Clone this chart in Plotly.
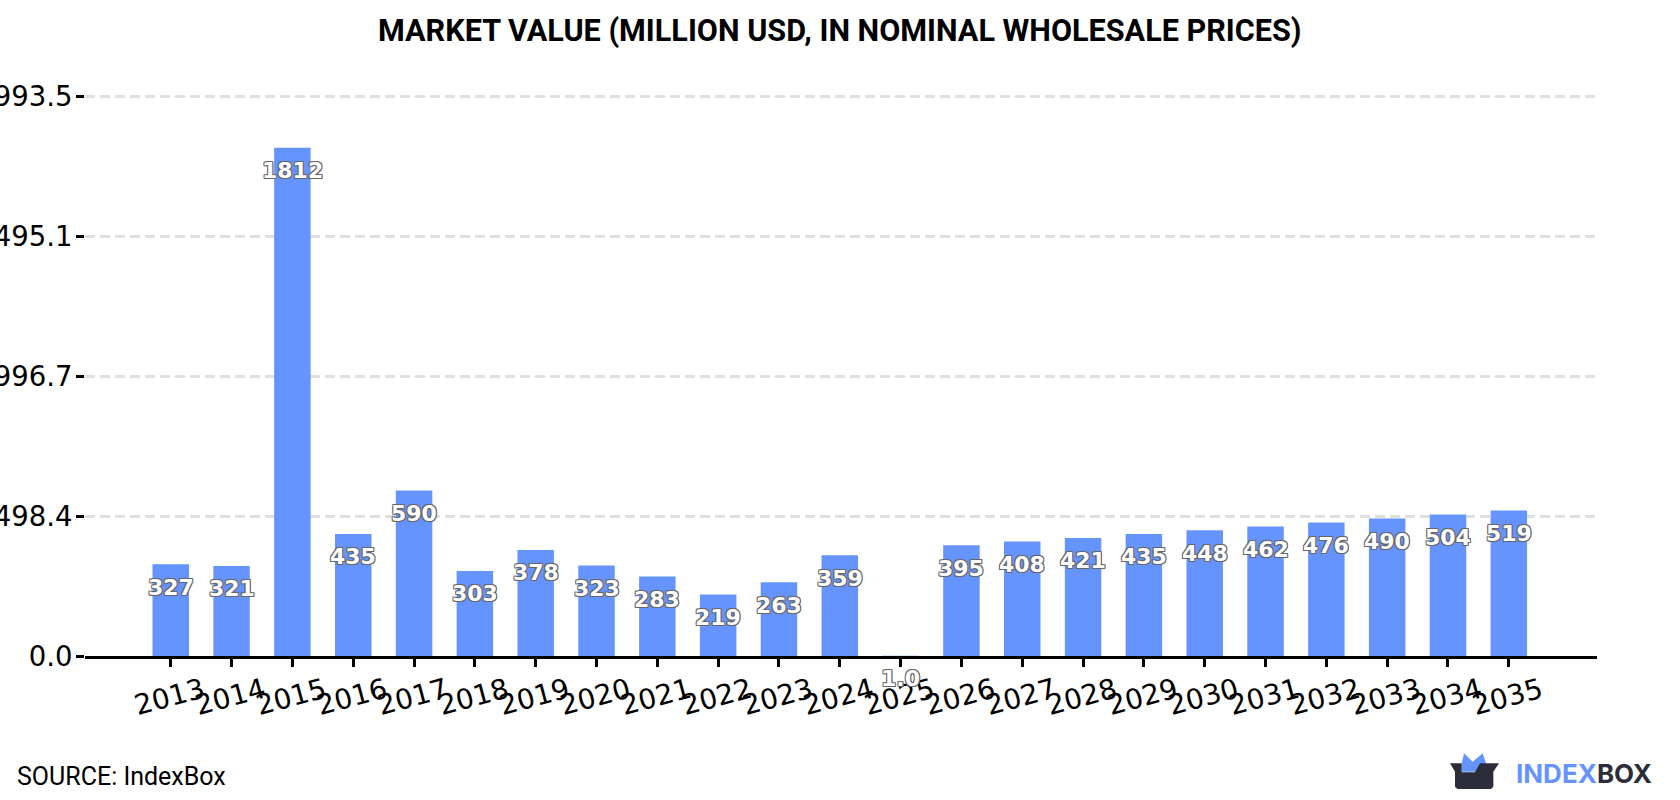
import plotly.graph_objects as go

# Market value series, history and forecast
years = [str(y) for y in [2013, 2014, 2015, 2016, 2017, 2018, 2019, 2020, 2021, 2022, 2023, 2024,
                          2025, 2026, 2027, 2028, 2029, 2030, 2031, 2032, 2033, 2034, 2035]]
values = [327, 321, 1812, 435, 590, 303, 378, 323, 283, 219, 263, 359,
          1.0, 395, 408, 421, 435, 448, 462, 476, 490, 504, 519]
value_labels = ["327", "321", "1812", "435", "590", "303", "378", "323", "283", "219", "263", "359",
                "1.0", "395", "408", "421", "435", "448", "462", "476", "490", "504", "519"]
y_ticks = [0.0, 498.4, 996.7, 1495.1, 1993.5]
y_tick_labels = ["0.0", "498.4", "996.7", "1495.1", "1993.5"]

W, H = 1680, 800
M_L, M_R, M_T, M_B = 85, 83, 95, 144
BLUE = "#6694ff"
BAR_FILL = "rgba(102,148,255,0.999)"
DARK = "#2b2d3a"
OUTLINE = "-1px -1px 0 #666, 1px -1px 0 #666, -1px 1px 0 #666, 1px 1px 0 #666, 0 1px 0 #666, 1px 0 0 #666"


def px_x(x):
    """Page pixel x to paper coordinate."""
    return (x - M_L) / (W - M_L - M_R)


def px_y(y):
    """Page pixel y to paper coordinate."""
    return 1 - (y - M_T) / (H - M_T - M_B)


def logo_path(points):
    return "M" + " L".join(f"{px_x(1400 + a / 3):.5f},{px_y(730 + b / 3):.5f}" for a, b in points) + " Z"


# An alpha just under 1 makes bars snap to whole pixels, so the 1.0 bar stays flat
fig = go.Figure(go.Bar(x=years, y=values, width=0.6, marker=dict(color=BAR_FILL, line_width=0)))

# Value labels sit a fixed distance below each bar top; x is the category index
annotations = [
    dict(x=i, y=val, xref="x", yref="y", text=label, showarrow=False, yanchor="middle",
         yshift=-23, font=dict(family="DejaVu Sans", size=22, color="white", weight="bold", shadow=OUTLINE))
    for i, (val, label) in enumerate(zip(values, value_labels))
]

annotations += [
    dict(x=840, y=31, text="<b>MARKET VALUE (MILLION USD, IN NOMINAL WHOLESALE PRICES)</b>",
         font=dict(family="Roboto", size=30.6, color="black")),
    dict(x=14.5, y=776, text="SOURCE: IndexBox", xanchor="left",
         font=dict(family="Roboto", size=25, color="black")),
    dict(x=1514, y=773, text=f"<b><span style='color:{BLUE}'>INDEX</span>BOX</b>", xanchor="left",
         font=dict(family="Inter", size=26, color=DARK)),
]
for a in annotations[-3:]:
    a.update(xref="paper", yref="paper", showarrow=False, yanchor="middle",
             x=px_x(a["x"]), y=px_y(a["y"]))

# Box-shaped logo mark
logo_ears = [(185, 100), (192, 70), (218, 95), (248, 70), (258, 100), (258, 125), (185, 125)]
logo_box = [(150, 100), (240, 100), (225, 127), (185, 127), (185, 100), (150, 100), (165, 125), (165, 170),
            (172, 177), (273, 177), (280, 170), (280, 125), (297, 100), (240, 100)]
shapes = [
    dict(type="path", xref="paper", yref="paper", path=logo_path(logo_ears), fillcolor=BLUE, line_width=0),
    dict(type="path", xref="paper", yref="paper", path=logo_path(logo_box), fillcolor=DARK, line_width=0),
]

fig.update_layout(
    width=W, height=H, autosize=False,
    margin=dict(l=M_L, r=M_R, t=M_T, b=M_B, autoexpand=False),
    paper_bgcolor="white", plot_bgcolor="white",
    showlegend=False, annotations=annotations, shapes=shapes,
    xaxis=dict(type="category", categoryorder="array", categoryarray=years,
               range=[-1.41, 23.45], tickmode="array", tickvals=years, ticktext=years,
               tickangle=-15, ticklabelshift=32, ticklabelstandoff=-3,
               ticks="outside", ticklen=8, tickwidth=2.5, tickcolor="black",
               showline=True, linecolor="black", linewidth=2.5, showgrid=False,
               tickfont=dict(family="DejaVu Sans", size=28, color="black")),
    yaxis=dict(range=[0, 1999.6], tickmode="array", tickvals=y_ticks, ticktext=y_tick_labels,
               ticks="outside", ticklen=8, tickwidth=2.5, tickcolor="black", ticklabelstandoff=-2,
               showline=False, zeroline=False, showgrid=True,
               gridcolor="#e0e0e0", gridwidth=2.5, griddash="10px,5px",
               tickfont=dict(family="DejaVu Sans", size=27.5, color="black")),
)

fig.write_html("out.html", config=dict(displayModeBar=False))
